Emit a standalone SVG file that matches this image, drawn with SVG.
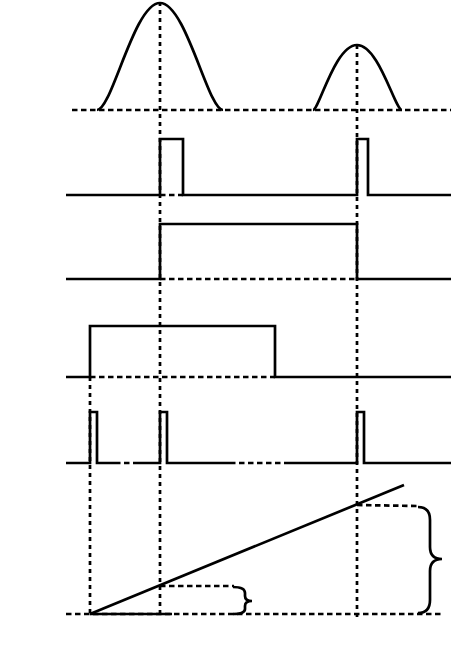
<svg xmlns="http://www.w3.org/2000/svg" width="474" height="648" viewBox="0 0 474 648">
<style>
.s{fill:none;stroke:#000;stroke-width:2.7;stroke-linejoin:miter}
.d{fill:none;stroke:#000;stroke-width:2.7;stroke-dasharray:5.5 3.5}
.v{fill:none;stroke:#000;stroke-width:2.7;stroke-dasharray:4 4}
</style>
<rect width="474" height="648" fill="#fff"/>
<g id="guides">
<line class="v" x1="160" y1="2" x2="160" y2="617"/>
<line class="v" x1="357" y1="45" x2="357" y2="617"/>
<line class="v" x1="90" y1="377" x2="90" y2="617"/>
</g>
<g id="row1-pulses">
<line class="d" x1="72" y1="110" x2="451" y2="110"/>
<path class="s" d="M97,110 C112,110 134,3 160,3 C186,3 208,110 223,110"/>
<path class="s" d="M313,110 C319,110 335,45 357,45 C379,45 395,110 402,110"/>
</g>
<g id="row2-gate">
<line class="d" x1="160" y1="195" x2="183" y2="195"/>
<path class="s" d="M66,195 H160 V139 H183 V195 H357 V139 H368 V195 H451"/>
</g>
<g id="row3-window">
<line class="d" x1="160" y1="279" x2="357" y2="279"/>
<path class="s" d="M66,279 H160 V224 H357 V279 H451"/>
</g>
<g id="row4-enable">
<line class="d" x1="90" y1="377" x2="275" y2="377"/>
<path class="s" d="M66,377 H90 V326 H275 V377 H451"/>
</g>
<g id="row5-triggers">
<line class="d" x1="115" y1="463" x2="135" y2="463"/>
<line class="d" x1="230" y1="463" x2="287" y2="463"/>
<path class="s" d="M66,463 H90 V412 H97 V463 H115"/>
<path class="s" d="M135,463 H160 V412 H167 V463 H230"/>
<path class="s" d="M287,463 H357 V412 H364 V463 H451"/>
</g>
<g id="row6-ramp">
<line class="d" x1="66" y1="614" x2="444" y2="614"/>
<line class="s" x1="90" y1="614" x2="172" y2="614"/>
<line class="s" x1="90" y1="614" x2="404" y2="485"/>
</g>
<g id="brace-small">
<line class="d" x1="160" y1="586" x2="234" y2="586"/>
<path class="s" d="M233,587 Q245,587 245,593 L245,596 Q245,601 252,601 Q245,601 245,606 L245,609 Q245,614 233,614"/>
</g>
<g id="brace-large">
<line class="d" x1="357" y1="505" x2="418" y2="506"/>
<path class="s" d="M418,507 Q430,507 430,520 L430,547 Q430,559 442,559 Q430,559 430,571 L430,600 Q430,613 418,613"/>
</g>
</svg>
